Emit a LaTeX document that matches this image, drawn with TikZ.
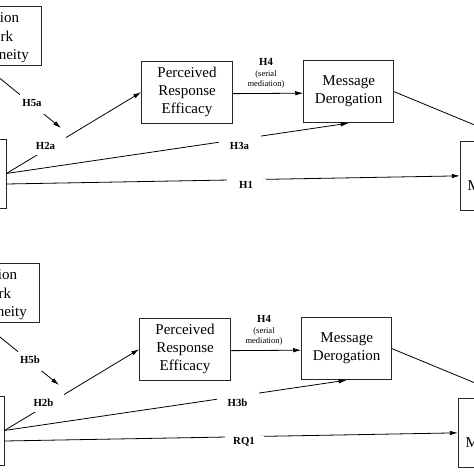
\documentclass[tikz,border=0pt]{standalone}
\usepackage{fontspec}
\setmainfont{Liberation Serif}
\usetikzlibrary{arrows.meta}
\tikzset{
  box/.style={draw=black!85, line width=0.9pt, inner sep=0pt, align=center,
    font=\fontsize{15}{18}\selectfont},
  arr/.style={-{Latex[length=8pt,width=4.5pt]}, line width=0.8pt},
  hyp/.style={fill=white, inner sep=0pt, font=\bfseries\fontsize{10.8}{12}\selectfont},
  sublbl/.style={inner sep=0pt, align=center, font=\fontsize{8.5}{10}\selectfont},
  frag/.style={inner sep=0pt, font=\fontsize{15}{18}\selectfont},
}
\newcommand\drawpanel[7]{%
\begin{scope}[shift={(#2,#3)}]
  % boxes
  \node[box, minimum width=101.3pt, minimum height=58.3pt] (#1TL) at (-9.35,35.85) {};
  \node[frag, anchor=base east] (#1fa) at (19.3,22.7) {tion};
  \node[frag, anchor=base east] (#1fb) at (13.3,41.5) {rk};
  \node[frag, anchor=base east] (#1fc) at (29,59.8) {neity};
  \node[box, minimum width=106pt, minimum height=69pt] (#1L) at (-47,173.5) {};
  \node[box, minimum width=90.6pt, minimum height=62.3pt] (#1PRE) at (187,92.15)
    {Perceived\\Response\\Efficacy};
  \node[box, minimum width=90pt, minimum height=62pt] (#1MD) at (348.7,91.7)
    {Message\\Derogation};
  \node[box, minimum width=107.4pt, minimum height=68.3pt] (#1M) at (514,175.85) {};
  \node[frag, anchor=base west] (#1fm) at (467.5,190.8) {M};
  % connectors
  \coordinate (#1mod) at (61,128);
  \draw[arr] (#1L.east) -- (#1PRE.west);
  \draw[arr] (#1L.east) -- (#1MD.south);
  \draw[arr] ([yshift=-10.5pt]#1L.east) -- (#1M.west);
  \draw[arr] ([yshift=-1.5pt]#1PRE.east) -- ([yshift=-1.5pt]#1MD.west);
  \draw[arr] (#1MD.east) -- (#1M.north);
  \draw[arr] ([xshift=-6.6pt]#1TL.south) -- (#1mod);
  % labels
  \node[hyp, minimum width=24pt, minimum height=22pt] (#1h5) at (32,103) {#4};
  \node[hyp, minimum width=40pt, minimum height=18pt] (#1h2) at (45.5,146) {#5};
  \node[hyp, minimum width=42pt, minimum height=24pt] (#1h3) at (239.5,146) {#6};
  \node[hyp, minimum width=39pt, minimum height=12pt] (#1h1) at (246,184.5) {#7};
  \node[hyp, fill=none] (#1h4) at (266,62) {H4};
  \node[sublbl] (#1ser) at (266,79) {(serial\\mediation)};
\end{scope}}
\begin{document}
\begin{tikzpicture}[x=1pt, y=-1pt]
  \useasboundingbox (0,0) rectangle (474,474);
  \clip (0,0) rectangle (474,474);
  \fill[white] (0,0) rectangle (474,474);
  \drawpanel{a}{0}{0}{H5a}{H2a}{H3a}{H1}
  \drawpanel{b}{-2}{257}{H5b}{H2b}{H3b}{RQ1}
\end{tikzpicture}
\end{document}
